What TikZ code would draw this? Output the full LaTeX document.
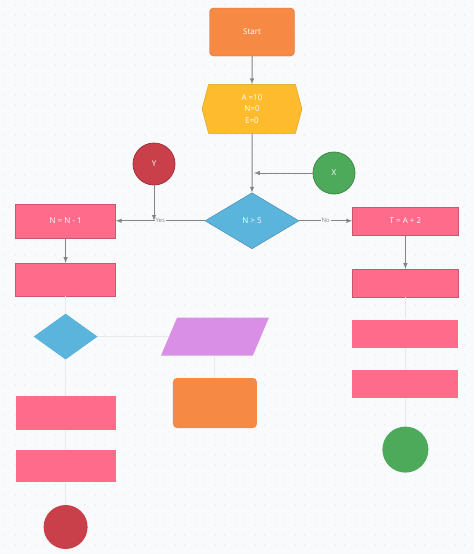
\documentclass[tikz,border=0pt]{standalone}
\usepackage{fontspec}
\setmainfont{Open Sans}
\usepackage{xcolor}
\usetikzlibrary{positioning,shapes,arrows}

\definecolor{canvas}{HTML}{F9FAFB}
\definecolor{griddot}{HTML}{E1E3E8}
\definecolor{linegray}{HTML}{858585}
\definecolor{startorange}{HTML}{F68A45}
\definecolor{inityellow}{HTML}{FDBB2D}
\definecolor{decblue}{HTML}{5AB4DC}
\definecolor{okgreen}{HTML}{4EAA5B}
\definecolor{stopred}{HTML}{C9404B}
\definecolor{procpink}{HTML}{FF6B8B}
\definecolor{iopurple}{HTML}{D98FE6}

\begin{document}
\begin{tikzpicture}[x=1pt, y=1pt, >=latex,
    font=\fontsize{8}{11.5}\selectfont,
    terminal/.style={rectangle, rounded corners=4pt, draw=startorange!85!black, fill=startorange, text=white, minimum width=85pt, minimum height=48pt},
    process/.style={rectangle, draw=procpink!80!black, fill=procpink, text=white, minimum width=100pt, minimum height=34pt},
    decision/.style={diamond, draw=decblue!75!black, fill=decblue, text=white, inner sep=0pt, minimum width=94pt, minimum height=56pt},
    connector/.style={draw=white!40!black, thick, circle, text=white, minimum size=42pt, inner sep=0pt},
    flow/.style={->, draw=linegray, line width=1pt},
    softflow/.style={draw=linegray!18, line width=1pt},
    lbl/.style={font=\fontsize{6}{7}\selectfont, text=linegray, fill=canvas, inner sep=1pt},
    blurred/.style={draw=none}]

    % canvas and dot grid
    \fill[canvas] (0,0) rectangle (474,-554);
    \foreach \gx in {5,15,...,470} {
        \foreach \gy in {-5,-15,...,-550} {
            \fill[griddot] (\gx,\gy) circle (0.7pt);
        }
    }
    \useasboundingbox (0,0) rectangle (474,-554);

    % main column
    \node[terminal] (start) at (252,-32) {Start};
    \node[signal, signal to=west and east, signal pointer angle=150, draw=inityellow!85!black, fill=inityellow, text=white, align=center, minimum width=100pt, minimum height=49pt, inner sep=0pt, below=28pt of start] (init) {A =10\\N=0\\E=0};
    \node[decision, below=59pt of init] (dec) {N > 5};

    \node[connector, fill=okgreen, draw=okgreen!80!black] (xnode) at (334,-173) {X};
    \node[connector, fill=stopred, draw=stopred!80!black] (ynode) at (154,-164) {Y};

    % yes branch
    \node[process, left=89pt of dec] (nminus) {N = N - 1};
    \node[process, minimum height=33pt, below=25pt of nminus] (asub) {};
    \node[decision, blurred, minimum width=64pt, minimum height=46pt, below=17pt of asub] (ldec) {};
    \node[trapezium, trapezium left angle=78, trapezium right angle=102, trapezium stretches=true, fill=iopurple, minimum width=108pt, minimum height=38pt, right=71pt of ldec] (io) {};
    \node[terminal, draw=none, minimum width=84pt, minimum height=50pt, below=22pt of io] (stop) {};
    \node[process, blurred, below=36pt of ldec] (lbox) {};
    \node[process, blurred, minimum height=32pt, below=20pt of lbox] (lbox2) {};
    \node[connector, draw=none, fill=stopred, minimum size=44pt, below=22pt of lbox2] (yend) {};

    % no branch
    \node[process, minimum width=106pt, minimum height=28pt, right=53pt of dec] (tplus) {T = A + 2};
    \node[process, minimum width=106pt, minimum height=28pt, below=34pt of tplus] (tbox) {};
    \node[process, blurred, minimum width=106pt, minimum height=28pt, below=22pt of tbox] (tbox2) {};
    \node[process, blurred, minimum width=106pt, minimum height=28pt, below=22pt of tbox2] (tbox3) {};
    \node[connector, draw=none, fill=okgreen, minimum size=46pt, below=28pt of tbox3] (xend) {};

    % connectors
    \draw[flow] (start) -- (init);
    \draw[flow] (init) -- (dec);
    \draw[flow, shorten >=2pt] (xnode) -- (xnode -| dec);
    \draw[flow] (ynode) -- (ynode |- dec);
    \draw[flow] (dec) -- node[lbl] {Yes} (nminus);
    \draw[flow] (dec) -- node[lbl] {No} (tplus);
    \draw[flow] (nminus) -- (asub);
    \draw[flow] (tplus) -- (tbox);

    \draw[softflow] (asub) -- (ldec);
    \draw[softflow] (ldec) -- (io);
    \draw[softflow] (ldec) -- (lbox);
    \draw[softflow] (lbox) -- (lbox2);
    \draw[softflow] (lbox2) -- (yend);
    \draw[softflow] (io) -- (stop);
    \draw[softflow] (tbox) -- (tbox2);
    \draw[softflow] (tbox2) -- (tbox3);
    \draw[softflow] (tbox3) -- (xend);
\end{tikzpicture}
\end{document}
